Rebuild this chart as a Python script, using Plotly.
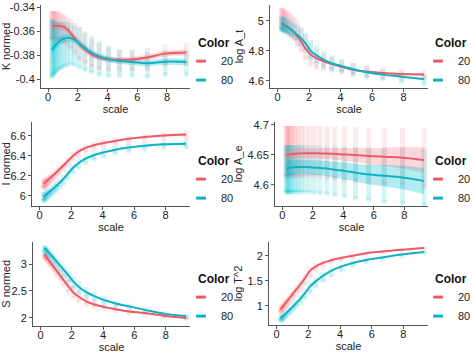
import plotly.graph_objects as go

# ---------------- data ----------------
scale = [0.25, 0.29, 0.34, 0.40, 0.47, 0.56, 0.66, 0.78, 0.92, 1.08, 1.27, 1.50,
         1.78, 2.10, 2.47, 2.92, 3.44, 4.06, 4.80, 5.66, 6.68, 7.88, 9.30]
groups = ["20", "80"]
x_tickvals = [0, 2, 4, 6, 8]
x_ticktext = ["0", "2", "4", "6", "8"]

# K normed
k_fit_20 = [-0.3556, -0.3556, -0.3555, -0.3555, -0.3555, -0.3555, -0.3555, -0.3556, -0.3558, -0.3565, -0.3582, -0.3612,
            -0.3655, -0.3705, -0.3750, -0.3792, -0.3818, -0.3832, -0.3838, -0.3834, -0.3818, -0.3786, -0.3776]
k_fit_80 = [-0.3756, -0.3748, -0.3740, -0.3730, -0.3720, -0.3708, -0.3695, -0.3682, -0.3670, -0.3660, -0.3654, -0.3656,
            -0.3672, -0.3700, -0.3738, -0.3778, -0.3810, -0.3832, -0.3848, -0.3856, -0.3866, -0.3853, -0.3856]
k_ci_20 = [0.0035, 0.0034, 0.0033, 0.0032, 0.0031, 0.0030, 0.0030, 0.0030, 0.0030, 0.0030, 0.0030, 0.0030,
           0.0030, 0.0030, 0.0028, 0.0026, 0.0024, 0.0023, 0.0022, 0.0022, 0.0022, 0.0023, 0.0025]
k_ci_80 = [0.0055, 0.0052, 0.0050, 0.0047, 0.0045, 0.0042, 0.0040, 0.0038, 0.0036, 0.0034, 0.0033, 0.0032,
           0.0032, 0.0032, 0.0030, 0.0028, 0.0026, 0.0025, 0.0024, 0.0024, 0.0025, 0.0026, 0.0028]
k_hi_20 = [-0.343, -0.343, -0.343, -0.343, -0.343, -0.343, -0.344, -0.344, -0.345, -0.346, -0.348, -0.350,
           -0.353, -0.356, -0.362, -0.366, -0.370, -0.373, -0.375, -0.375, -0.374, -0.371, -0.370]
k_lo_20 = [-0.366, -0.366, -0.366, -0.366, -0.366, -0.366, -0.367, -0.367, -0.368, -0.369, -0.371, -0.374,
           -0.378, -0.383, -0.386, -0.389, -0.391, -0.392, -0.392, -0.392, -0.391, -0.388, -0.387]
k_hi_80 = [-0.350, -0.350, -0.351, -0.351, -0.351, -0.352, -0.352, -0.352, -0.352, -0.352, -0.352, -0.353,
           -0.355, -0.357, -0.360, -0.364, -0.368, -0.372, -0.375, -0.376, -0.377, -0.376, -0.376]
k_lo_80 = [-0.398, -0.397, -0.396, -0.395, -0.394, -0.393, -0.392, -0.391, -0.390, -0.389, -0.388, -0.387,
           -0.388, -0.390, -0.392, -0.394, -0.396, -0.397, -0.397, -0.397, -0.398, -0.396, -0.396]

# log A_t
at_fit_20 = [4.985, 4.983, 4.980, 4.977, 4.972, 4.966, 4.958, 4.948, 4.935, 4.918, 4.895, 4.862,
             4.815, 4.775, 4.750, 4.730, 4.712, 4.694, 4.675, 4.662, 4.652, 4.646, 4.643]
at_fit_80 = [4.978, 4.976, 4.974, 4.971, 4.967, 4.962, 4.955, 4.947, 4.936, 4.922, 4.905, 4.883,
             4.850, 4.800, 4.770, 4.742, 4.718, 4.699, 4.678, 4.658, 4.642, 4.628, 4.612]
at_ci_20 = [0.012, 0.012, 0.011, 0.011, 0.011, 0.010, 0.010, 0.010, 0.009, 0.009, 0.009, 0.009,
            0.008, 0.008, 0.007, 0.007, 0.006, 0.006, 0.006, 0.006, 0.006, 0.007, 0.008]
at_ci_80 = [0.010, 0.010, 0.010, 0.009, 0.009, 0.009, 0.009, 0.008, 0.008, 0.008, 0.008, 0.008,
            0.008, 0.008, 0.007, 0.007, 0.006, 0.006, 0.006, 0.006, 0.006, 0.007, 0.008]
at_hi_20 = [5.090, 5.085, 5.080, 5.075, 5.070, 5.065, 5.060, 5.050, 5.040, 5.020, 5.000, 4.960,
            4.910, 4.850, 4.810, 4.780, 4.760, 4.740, 4.720, 4.700, 4.690, 4.680, 4.675]
at_lo_20 = [4.950, 4.950, 4.945, 4.940, 4.935, 4.930, 4.920, 4.910, 4.890, 4.870, 4.840, 4.800,
            4.750, 4.710, 4.690, 4.680, 4.670, 4.660, 4.645, 4.635, 4.625, 4.620, 4.615]
at_hi_80 = [5.030, 5.030, 5.025, 5.020, 5.020, 5.015, 5.010, 5.000, 4.990, 4.980, 4.970, 4.950,
            4.920, 4.870, 4.840, 4.800, 4.770, 4.745, 4.720, 4.700, 4.680, 4.665, 4.645]
at_lo_80 = [4.940, 4.940, 4.935, 4.930, 4.930, 4.925, 4.920, 4.910, 4.900, 4.890, 4.870, 4.840,
            4.800, 4.750, 4.720, 4.700, 4.680, 4.665, 4.645, 4.625, 4.610, 4.595, 4.580]

# I normed
i_fit_20 = [6.122, 6.126, 6.132, 6.140, 6.150, 6.162, 6.176, 6.192, 6.212, 6.236, 6.265, 6.300,
            6.345, 6.395, 6.440, 6.478, 6.505, 6.526, 6.548, 6.570, 6.588, 6.602, 6.612]
i_fit_80 = [5.990, 5.994, 6.000, 6.008, 6.018, 6.030, 6.043, 6.058, 6.077, 6.100, 6.128, 6.165,
            6.215, 6.275, 6.325, 6.370, 6.405, 6.433, 6.460, 6.482, 6.500, 6.514, 6.520]
i_ci_20 = [0.016, 0.016, 0.015, 0.015, 0.015, 0.014, 0.014, 0.014, 0.013, 0.013, 0.013, 0.012,
           0.012, 0.012, 0.011, 0.011, 0.010, 0.010, 0.010, 0.010, 0.010, 0.011, 0.012]
i_ci_80 = [0.016, 0.016, 0.015, 0.015, 0.015, 0.014, 0.014, 0.014, 0.013, 0.013, 0.013, 0.012,
           0.012, 0.012, 0.011, 0.011, 0.010, 0.010, 0.010, 0.010, 0.010, 0.011, 0.012]
i_hi_20 = [6.165, 6.170, 6.175, 6.180, 6.190, 6.200, 6.215, 6.230, 6.250, 6.275, 6.305, 6.340,
           6.385, 6.440, 6.480, 6.515, 6.540, 6.560, 6.580, 6.605, 6.620, 6.635, 6.655]
i_lo_20 = [6.080, 6.085, 6.090, 6.100, 6.110, 6.120, 6.135, 6.150, 6.170, 6.195, 6.225, 6.260,
           6.300, 6.350, 6.400, 6.440, 6.470, 6.490, 6.515, 6.535, 6.555, 6.570, 6.580]
i_hi_80 = [6.030, 6.035, 6.040, 6.050, 6.060, 6.070, 6.085, 6.100, 6.120, 6.145, 6.170, 6.210,
           6.260, 6.320, 6.370, 6.410, 6.445, 6.470, 6.495, 6.520, 6.535, 6.550, 6.560]
i_lo_80 = [5.950, 5.955, 5.960, 5.965, 5.975, 5.990, 6.000, 6.015, 6.035, 6.055, 6.085, 6.120,
           6.170, 6.230, 6.280, 6.330, 6.365, 6.395, 6.425, 6.445, 6.465, 6.480, 6.485]

# log A_e
ae_fit_20 = [4.6500, 4.6500, 4.6500, 4.6500, 4.6505, 4.6510, 4.6510, 4.6515, 4.6520, 4.6520, 4.6523, 4.6525,
             4.6525, 4.6525, 4.6522, 4.6520, 4.6515, 4.6505, 4.6495, 4.6480, 4.6465, 4.6450, 4.6410]
ae_fit_80 = [4.6270, 4.6272, 4.6275, 4.6280, 4.6283, 4.6286, 4.6290, 4.6292, 4.6294, 4.6295, 4.6295, 4.6294,
             4.6290, 4.6285, 4.6280, 4.6270, 4.6250, 4.6230, 4.6200, 4.6170, 4.6150, 4.6120, 4.6060]
ae_ci_20 = [0.0090, 0.0090, 0.0090, 0.0090, 0.0088, 0.0086, 0.0085, 0.0084, 0.0083, 0.0082, 0.0082, 0.0082,
            0.0083, 0.0085, 0.0088, 0.0092, 0.0098, 0.0106, 0.0118, 0.0134, 0.0153, 0.0178, 0.0210]
ae_ci_80 = [0.0130, 0.0130, 0.0128, 0.0126, 0.0124, 0.0122, 0.0120, 0.0118, 0.0117, 0.0116, 0.0116, 0.0117,
            0.0118, 0.0120, 0.0123, 0.0127, 0.0133, 0.0140, 0.0150, 0.0163, 0.0178, 0.0195, 0.0215]
ae_hi_20 = [4.698, 4.698, 4.698, 4.698, 4.698, 4.698, 4.698, 4.698, 4.698, 4.698, 4.698, 4.698,
            4.698, 4.698, 4.698, 4.697, 4.697, 4.697, 4.696, 4.696, 4.695, 4.695, 4.694]
ae_lo_20 = [4.615, 4.615, 4.615, 4.615, 4.615, 4.615, 4.615, 4.615, 4.615, 4.615, 4.615, 4.615,
            4.615, 4.615, 4.614, 4.612, 4.610, 4.608, 4.606, 4.604, 4.602, 4.600, 4.598]
ae_hi_80 = [4.666, 4.666, 4.666, 4.666, 4.666, 4.666, 4.666, 4.666, 4.666, 4.666, 4.666, 4.666,
            4.666, 4.666, 4.665, 4.665, 4.664, 4.664, 4.663, 4.662, 4.661, 4.660, 4.660]
ae_lo_80 = [4.588, 4.588, 4.588, 4.588, 4.588, 4.588, 4.588, 4.588, 4.588, 4.588, 4.588, 4.588,
            4.588, 4.587, 4.586, 4.585, 4.583, 4.581, 4.578, 4.575, 4.572, 4.569, 4.566]

# S normed
s_fit_20 = [3.175, 3.160, 3.140, 3.120, 3.090, 3.055, 3.015, 2.970, 2.915, 2.855, 2.780, 2.690,
            2.585, 2.470, 2.385, 2.305, 2.245, 2.200, 2.155, 2.115, 2.085, 2.035, 1.995]
s_fit_80 = [3.300, 3.290, 3.275, 3.258, 3.236, 3.208, 3.175, 3.135, 3.085, 3.030, 2.965, 2.885,
            2.790, 2.670, 2.565, 2.475, 2.400, 2.330, 2.265, 2.210, 2.145, 2.075, 2.030]
s_ci_20 = [0.022, 0.022, 0.021, 0.021, 0.020, 0.020, 0.019, 0.019, 0.018, 0.018, 0.017, 0.017,
           0.016, 0.016, 0.015, 0.014, 0.013, 0.013, 0.012, 0.012, 0.012, 0.013, 0.014]
s_ci_80 = [0.022, 0.022, 0.021, 0.021, 0.020, 0.020, 0.019, 0.019, 0.018, 0.018, 0.017, 0.017,
           0.016, 0.016, 0.015, 0.014, 0.013, 0.013, 0.012, 0.012, 0.012, 0.013, 0.014]
s_hi_20 = [3.220, 3.210, 3.195, 3.180, 3.155, 3.125, 3.090, 3.050, 3.000, 2.945, 2.880, 2.800,
           2.700, 2.600, 2.490, 2.390, 2.310, 2.250, 2.195, 2.155, 2.115, 2.070, 2.030]
s_lo_20 = [3.120, 3.110, 3.090, 3.070, 3.040, 3.000, 2.960, 2.910, 2.850, 2.780, 2.700, 2.600,
           2.490, 2.380, 2.310, 2.250, 2.200, 2.160, 2.120, 2.085, 2.050, 2.005, 1.970]
s_hi_80 = [3.350, 3.340, 3.325, 3.310, 3.290, 3.260, 3.230, 3.190, 3.140, 3.090, 3.030, 2.960,
           2.870, 2.770, 2.660, 2.570, 2.480, 2.400, 2.320, 2.260, 2.195, 2.120, 2.070]
s_lo_80 = [3.240, 3.230, 3.215, 3.195, 3.170, 3.140, 3.105, 3.060, 3.000, 2.940, 2.870, 2.780,
           2.680, 2.560, 2.470, 2.390, 2.320, 2.260, 2.210, 2.160, 2.120, 2.050, 2.000]

# log T^2
t_fit_20 = [0.930, 0.945, 0.965, 0.990, 1.020, 1.055, 1.095, 1.145, 1.200, 1.265, 1.340, 1.430,
            1.550, 1.700, 1.790, 1.860, 1.915, 1.960, 2.005, 2.055, 2.090, 2.125, 2.160]
t_fit_80 = [0.755, 0.765, 0.780, 0.795, 0.815, 0.840, 0.870, 0.905, 0.950, 1.000, 1.065, 1.140,
            1.250, 1.385, 1.490, 1.600, 1.700, 1.785, 1.860, 1.920, 1.970, 2.030, 2.080]
t_ci_20 = [0.022, 0.022, 0.021, 0.021, 0.020, 0.020, 0.019, 0.019, 0.018, 0.018, 0.017, 0.017,
           0.016, 0.016, 0.015, 0.014, 0.013, 0.013, 0.012, 0.012, 0.012, 0.013, 0.014]
t_ci_80 = [0.022, 0.022, 0.021, 0.021, 0.020, 0.020, 0.019, 0.019, 0.018, 0.018, 0.017, 0.017,
           0.016, 0.016, 0.015, 0.014, 0.013, 0.013, 0.012, 0.012, 0.012, 0.013, 0.014]
t_hi_20 = [0.990, 1.005, 1.025, 1.050, 1.085, 1.120, 1.165, 1.220, 1.280, 1.350, 1.430, 1.520,
           1.640, 1.780, 1.860, 1.920, 1.965, 2.000, 2.040, 2.080, 2.110, 2.140, 2.180]
t_lo_20 = [0.870, 0.885, 0.900, 0.925, 0.955, 0.985, 1.020, 1.065, 1.120, 1.180, 1.250, 1.330,
           1.440, 1.580, 1.700, 1.790, 1.860, 1.915, 1.970, 2.030, 2.070, 2.110, 2.140]
t_hi_80 = [0.800, 0.810, 0.825, 0.845, 0.865, 0.890, 0.925, 0.960, 1.010, 1.065, 1.135, 1.220,
           1.330, 1.470, 1.570, 1.680, 1.770, 1.835, 1.900, 1.955, 2.000, 2.055, 2.100]
t_lo_80 = [0.700, 0.710, 0.720, 0.735, 0.755, 0.780, 0.810, 0.845, 0.890, 0.935, 0.995, 1.060,
           1.160, 1.280, 1.390, 1.500, 1.610, 1.720, 1.810, 1.880, 1.935, 2.000, 2.060]

# y ticks
k_ticks, k_ticktext = [-0.4, -0.38, -0.36, -0.34], ["-0.4", "-0.38", "-0.36", "-0.34"]
at_ticks, at_ticktext = [4.6, 4.8, 5.0], ["4.6", "4.8", "5"]
i_ticks, i_ticktext = [6.0, 6.2, 6.4, 6.6], ["6", "6.2", "6.4", "6.6"]
ae_ticks, ae_ticktext = [4.6, 4.65, 4.7], ["4.6", "4.65", "4.7"]
s_ticks, s_ticktext = [2.0, 2.5, 3.0], ["2", "2.5", "3"]
t_ticks, t_ticktext = [1.0, 1.5, 2.0], ["1", "1.5", "2"]

# ---------------- figure ----------------
FONT = "Liberation Sans, Arial, Helvetica, sans-serif"
LINE_COL = {"20": "#EE5A67", "80": "#12B2C5"}
PT_COL = {"20": "rgba(248,118,128,0.16)", "80": "rgba(0,190,205,0.16)"}
CI_COL = {"20": "rgba(248,118,128,0.30)", "80": "rgba(0,190,205,0.30)"}

panels = [
    dict(title="K normed", fit=(k_fit_20, k_fit_80), ci=(k_ci_20, k_ci_80), lo=(k_lo_20, k_lo_80), hi=(k_hi_20, k_hi_80),
         ticks=k_ticks, ticktext=k_ticktext, yr=[-0.4073, -0.338], xd=[41, 190], yd=[5, 88], leg=(196, 31)),
    dict(title="log A_t", fit=(at_fit_20, at_fit_80), ci=(at_ci_20, at_ci_80), lo=(at_lo_20, at_lo_80), hi=(at_hi_20, at_hi_80),
         ticks=at_ticks, ticktext=at_ticktext, yr=[4.553, 5.105], xd=[270, 428], yd=[5, 88], leg=(433, 31)),
    dict(title="I normed", fit=(i_fit_20, i_fit_80), ci=(i_ci_20, i_ci_80), lo=(i_lo_20, i_lo_80), hi=(i_hi_20, i_hi_80),
         ticks=i_ticks, ticktext=i_ticktext, yr=[5.9, 6.737], xd=[32, 190], yd=[122, 205.7], leg=(196, 149)),
    dict(title="log A_e", fit=(ae_fit_20, ae_fit_80), ci=(ae_ci_20, ae_ci_80), lo=(ae_lo_20, ae_lo_80), hi=(ae_hi_20, ae_hi_80),
         ticks=ae_ticks, ticktext=ae_ticktext, yr=[4.565, 4.7046], xd=[275, 428], yd=[122, 205.7], leg=(433, 149)),
    dict(title="S normed", fit=(s_fit_20, s_fit_80), ci=(s_ci_20, s_ci_80), lo=(s_lo_20, s_lo_80), hi=(s_hi_20, s_hi_80),
         ticks=s_ticks, ticktext=s_ticktext, yr=[1.85, 3.41], xd=[33, 190], yd=[242, 325.7], leg=(196, 267)),
    dict(title="log T^2", fit=(t_fit_20, t_fit_80), ci=(t_ci_20, t_ci_80), lo=(t_lo_20, t_lo_80), hi=(t_hi_20, t_hi_80),
         ticks=t_ticks, ticktext=t_ticktext, yr=[0.614, 2.28], xd=[269, 428], yd=[242, 325], leg=(433, 267)),
]

W, H = 474, 355
fig = go.Figure()
layout = {}
for p_i, p in enumerate(panels):
    n = p_i + 1
    xa = "x" if n == 1 else f"x{n}"
    ya = "y" if n == 1 else f"y{n}"
    leg = "legend" if n == 1 else f"legend{n}"
    # points
    for g_i, g in enumerate(groups):
        lo, hi = p["lo"][g_i], p["hi"][g_i]
        fig.add_trace(go.Scatter(
            x=scale, y=lo, mode="markers", xaxis=xa, yaxis=ya, showlegend=False, hoverinfo="skip",
            marker=dict(size=5, color=PT_COL[g]),
            error_y=dict(type="data", symmetric=False, array=[h - l for h, l in zip(hi, lo)],
                         arrayminus=[0] * len(lo), thickness=5, width=0, color=PT_COL[g])))
    # ribbons
    for g_i, g in enumerate(groups):
        fit, ci = p["fit"][g_i], p["ci"][g_i]
        fig.add_trace(go.Scatter(x=scale, y=[f + c for f, c in zip(fit, ci)], mode="lines", line=dict(width=0, shape="spline"),
                                 xaxis=xa, yaxis=ya, showlegend=False, hoverinfo="skip"))
        fig.add_trace(go.Scatter(x=scale, y=[f - c for f, c in zip(fit, ci)], mode="lines", line=dict(width=0, shape="spline"),
                                 fill="tonexty", fillcolor=CI_COL[g], xaxis=xa, yaxis=ya, showlegend=False, hoverinfo="skip"))
    # fitted lines
    for g_i, g in enumerate(groups):
        fig.add_trace(go.Scatter(x=scale, y=p["fit"][g_i], mode="lines", line=dict(color=LINE_COL[g], width=2, shape="spline"),
                                 xaxis=xa, yaxis=ya, showlegend=False, name=g))
    # legend entries
    for g in groups:
        fig.add_trace(go.Scatter(x=[None], y=[None], mode="markers", name=g, legend=leg, xaxis=xa, yaxis=ya,
                                 marker=dict(symbol="line-ew", size=7, line=dict(width=3, color=LINE_COL[g]))))

    axis_common = dict(showgrid=False, zeroline=False, showline=True, linecolor="#555", linewidth=1,
                       ticks="outside", ticklen=3, tickcolor="#555", automargin=False,
                       tickfont=dict(family=FONT, size=11, color="#222"))
    layout["xaxis" if n == 1 else f"xaxis{n}"] = dict(
        axis_common, domain=[p["xd"][0] / W, p["xd"][1] / W], range=[-0.48, 9.55], anchor=ya,
        tickvals=x_tickvals, ticktext=x_ticktext, ticklabelstandoff=-4,
        title=dict(text="scale", standoff=0, font=dict(family=FONT, size=11, color="#222")))
    layout["yaxis" if n == 1 else f"yaxis{n}"] = dict(
        axis_common, domain=[1 - p["yd"][1] / H, 1 - p["yd"][0] / H], range=p["yr"], anchor=xa,
        tickvals=p["ticks"], ticktext=p["ticktext"],
        title=dict(text=p["title"], standoff=2, font=dict(family=FONT, size=11, color="#222")))
    layout[leg] = dict(x=p["leg"][0] / W, y=1 - p["leg"][1] / H, xanchor="left", yanchor="top",
                       bgcolor="rgba(0,0,0,0)", font=dict(family=FONT, size=11, color="#222"),
                       title=dict(text="<b>Color</b>", font=dict(family=FONT, size=12, color="#111")),
                       itemwidth=30, tracegroupgap=0, traceorder="normal", indentation=-15)

fig.update_layout(width=W, height=H, margin=dict(l=0, r=0, t=0, b=0, autoexpand=False), plot_bgcolor="white",
                  paper_bgcolor="white", font=dict(family=FONT), **layout)
fig.write_html("out.html", config={"displayModeBar": False},
               post_script="document.body.style.margin='0px';")
